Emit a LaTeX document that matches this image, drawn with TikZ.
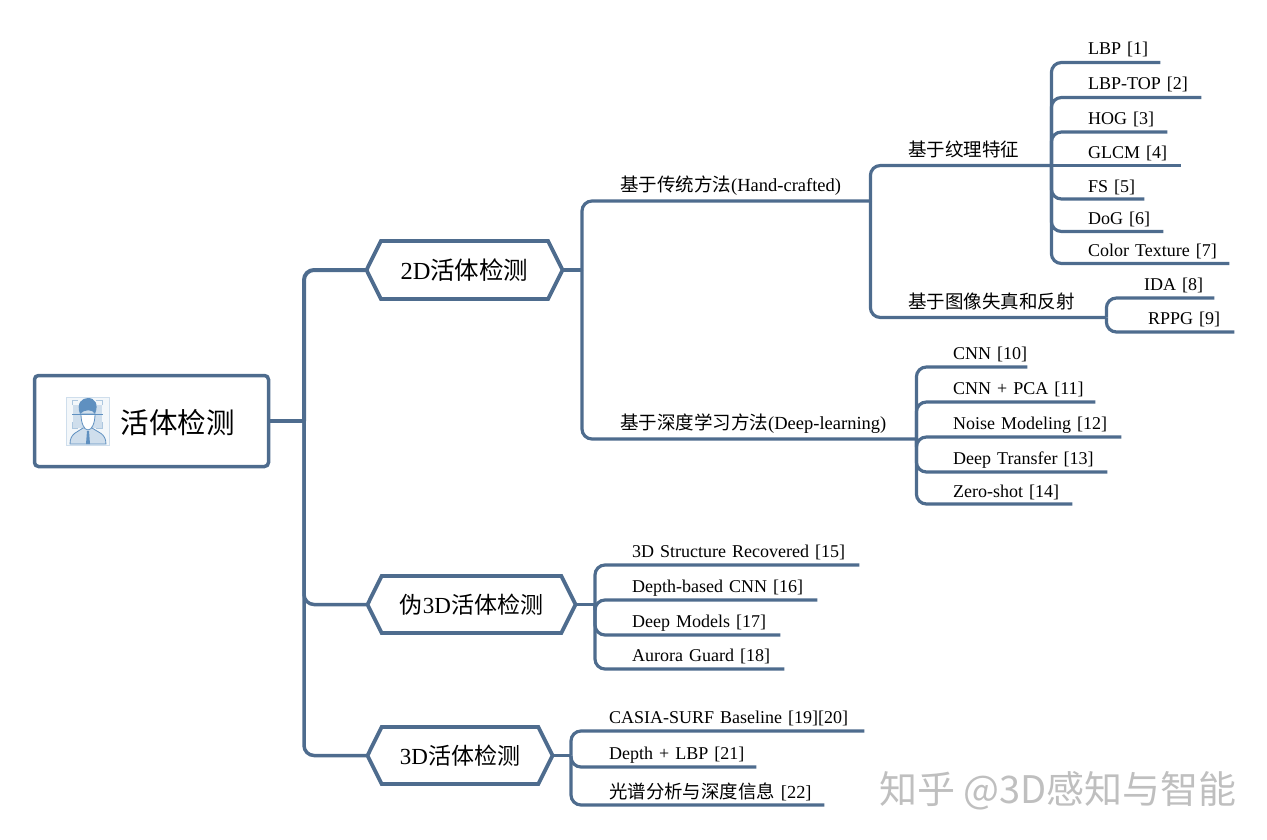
\documentclass[tikz,border=0pt]{standalone}
\usepackage{fontspec}
\setmainfont{Liberation Serif}
\newfontfamily\cjk{Noto Sans CJK SC}
\usetikzlibrary{shapes}
\usetikzlibrary{positioning}
\definecolor{slate}{HTML}{4E6C8E}
\definecolor{iconblue}{HTML}{5F90C0}
\definecolor{iconpale}{HTML}{CFDEEC}
\begin{document}
\begin{tikzpicture}
                [x=1pt, y=-1pt,
                 branch/.style={draw=slate, line width=3.2pt, rounded corners=10pt},
                 trunk/.style={branch, line width=4pt},
                 rootbox/.style={draw=slate, line width=3.5pt, rounded corners=4pt, minimum width=234pt, minimum height=91pt},
                 hexnode/.style={signal, signal to=west and east, signal pointer angle=127, draw=slate, line width=3.8pt, inner sep=0pt, outer sep=0pt, minimum height=58pt, font=\fontsize{24.5}{26}\selectfont},
                 leaf/.style={anchor=south west, inner sep=0pt, text depth=7.5pt, align=left, font=\fontsize{18}{20}\selectfont},
                 midleaf/.style={leaf, text depth=9pt, font=\fontsize{18.5}{20}\selectfont}]
                \useasboundingbox (0,0) rectangle (1267,840);
                % root
                \node (root) [rootbox] at (151.5,421) { };
                \node (icon) [draw=iconpale, fill=iconpale!25, line width=0.8pt, inner sep=0pt, minimum width=43pt, minimum height=48pt] at (87.5,421) { };
                \fill[iconpale] (73,405) rectangle (102,428);
                \draw[iconpale!70!iconblue, line width=0.8pt] (72,405) |- (78,400) (96,400) -| (102,405) (72,422) |- (78,428) (96,428) -| (102,422);
                \fill[iconpale, draw=iconblue, line width=0.8pt] (70,444) .. controls (70,433) and (78,432) .. (83,428) -- (92,428) .. controls (97,432) and (106,433) .. (106,444) -- cycle;
                \fill[white, draw=iconblue, line width=0.8pt] (81,414) .. controls (81,423) and (84,430) .. (88,430) .. controls (92,430) and (95,423) .. (95,414) -- cycle;
                \fill[iconblue] (80,414) .. controls (76,403) and (82,398) .. (88,398) .. controls (95,398) and (99,404) .. (95,414) .. controls (93,409) and (84,409) .. (80,414) -- cycle;
                \draw[iconblue, line width=0.8pt] (72,414) -- (103,414);
                \fill[iconblue] (87,431) -- (89,431) -- (90,444) -- (86,444) -- cycle;
                \node (title) [right=11pt of icon, yshift=-2pt, inner sep=0pt, font=\fontsize{28.5}{30}\selectfont\cjk] {活体检测};
                % second level
                \node (hexa) [hexnode, minimum width=196pt] at (464.5,270) {2D{\cjk 活体检测}};
                \node (hexb) [hexnode, minimum width=208pt, minimum height=57pt, font=\fontsize{23}{25}\selectfont] at (471.5,604.5) {{\cjk 伪}3D{\cjk 活体检测}};
                \node (hexc) [hexnode, minimum width=185pt, minimum height=57pt, font=\fontsize{23}{25}\selectfont] at (460,755.5) {3D{\cjk 活体检测}};
                \coordinate (rootj) at (304,421);
                \coordinate (hexaj) at (582,270);
                \coordinate (hexbj) at (595,604.5);
                \coordinate (hexcj) at (571,755.5);
                \draw[trunk] (root) -- (rootj);
                \draw[trunk] (rootj) |- (hexa.west);
                \draw[branch, line width=3.5pt] (rootj) |- (hexb.west);
                \draw[branch, line width=3.5pt] (rootj) |- (hexc.west);
                \draw[branch] (hexa.east) -- (hexaj);
                \draw[branch] (hexb.east) -- (hexbj);
                \draw[branch] (hexc.east) -- (hexcj);
                % 2D methods
                \node (trad) [midleaf, text width=250pt] at (620,201) {{\cjk 基于传统方法}(Hand-crafted)};
                \node (deep) [midleaf, text width=296pt] at (620,439) {{\cjk 基于深度学习方法}(Deep-learning)};
                \node (tex) [midleaf, text width=143pt] at (908,165.5) {{\cjk 基于纹理特征}};
                \node (dist) [midleaf, text width=198pt] at (908,317.5) {{\cjk 基于图像失真和反射}};
                \draw[branch] (hexaj) |- (trad.south east);
                \draw[branch] (hexaj) |- (deep.south east);
                \draw[branch] (trad.south east) |- (tex.south east);
                \draw[branch] (trad.south east) |- (dist.south east);
                % texture
                \node (lbp) [leaf, text width=72pt] at (1088,62.5) {LBP [1]};
                \node (top) [leaf, text width=113pt] at (1088,97.5) {LBP-TOP [2]};
                \node (hog) [leaf, text width=79pt] at (1088,132) {HOG [3]};
                \node (glcm) [leaf, text width=93pt, text depth=6.5pt] at (1088,165.5) {GLCM [4]};
                \node (fs) [leaf, text width=56pt, text depth=6pt] at (1088,199) {FS [5]};
                \node (dog) [leaf, text width=75pt, text depth=7pt] at (1088,231.5) {DoG [6]};
                \node (color) [leaf, text width=141pt, text depth=6.5pt] at (1088,263.5) {Color Texture [7]};
                \foreach \n in {lbp,top,hog,fs,dog,color}
                    \draw[branch] (tex.south east) |- (\n.south east);
                \draw[branch] (tex.south east) -- (glcm.south east);
                % distortion
                \node (ida) [leaf, text width=70pt] at (1144,298) {IDA [8]};
                \node (rppg) [leaf, text width=86pt] at (1148,332) {RPPG [9]};
                \draw[branch] (dist.south east) |- (ida.south east);
                \draw[branch] (dist.south east) |- (rppg.south east);
                % deep learning
                \node (cnn) [leaf, text width=74pt] at (953,367) {CNN [10]};
                \node (pca) [leaf, text width=142pt] at (953,402) {CNN + PCA [11]};
                \node (noise) [leaf, text width=168pt] at (953,437) {Noise Modeling [12]};
                \node (transfer) [leaf, text width=154pt, text depth=7pt] at (953,472) {Deep Transfer [13]};
                \node (zero) [leaf, text width=119pt, text depth=6pt] at (953,504) {Zero-shot [14]};
                \foreach \n in {cnn,pca,noise,transfer,zero}
                    \draw[branch] (deep.south east) |- (\n.south east);
                % pseudo 3D
                \node (recov) [leaf, text width=227pt] at (632,565) {3D Structure Recovered [15]};
                \node (dcnn) [leaf, text width=185pt] at (632,600) {Depth-based CNN [16]};
                \node (models) [leaf, text width=148pt] at (632,635) {Deep Models [17]};
                \node (aurora) [leaf, text width=152pt] at (632,669) {Aurora Guard [18]};
                \foreach \n in {recov,dcnn,models,aurora}
                    \draw[branch] (hexbj) |- (\n.south east);
                % 3D
                \node (casia) [leaf, text width=255pt] at (609,731) {CASIA-SURF Baseline [19][20]};
                \node (dlbp) [leaf, text width=147pt] at (609,767) {Depth + LBP [21]};
                \node (spec) [leaf, text width=215pt, text depth=6.5pt, font=\fontsize{18.4}{20}\selectfont] at (609,805) {{\cjk 光谱分析与深度信息} [22]};
                \foreach \n in {casia,dlbp,spec}
                    \draw[branch] (hexcj) |- (\n.south east);
                % watermark
                \node (mark) [anchor=west, inner sep=0pt, text=black!25, font=\fontsize{38}{40}\selectfont\cjk] at (879,791) {知乎 @3D感知与智能};
            \end{tikzpicture}
\end{document}
